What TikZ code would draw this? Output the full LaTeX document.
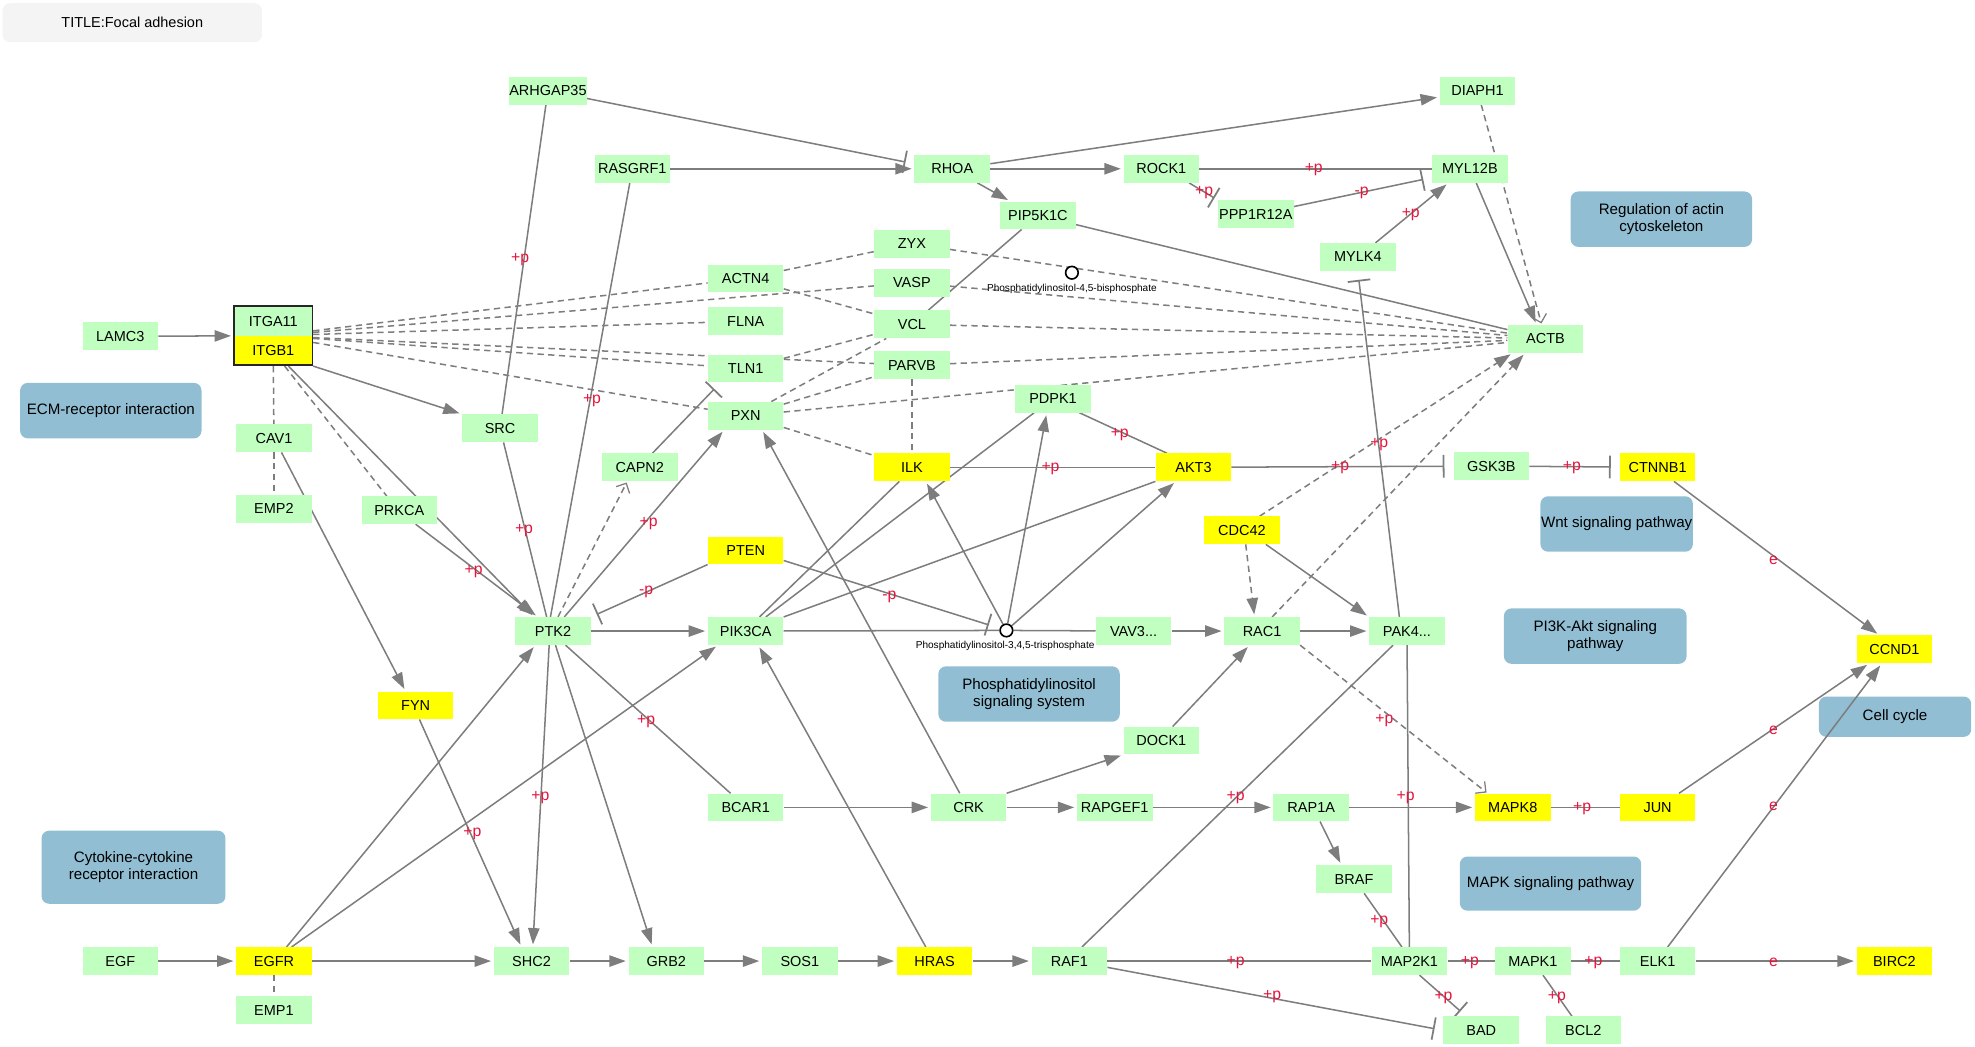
\documentclass[tikz,border=0pt]{standalone}
\usepackage{fontspec}
\setmainfont{Liberation Sans}
\usetikzlibrary{arrows.meta}
\definecolor{gfill}{RGB}{193,255,193}
\definecolor{yfill}{RGB}{255,255,0}
\definecolor{pwfill}{RGB}{145,190,211}
\definecolor{egray}{RGB}{125,125,125}
\definecolor{lred}{RGB}{230,20,60}
\definecolor{tfill}{RGB}{244,244,244}
\pgfdeclarelayer{pwl}
\pgfdeclarelayer{bg}
\pgfsetlayers{pwl,bg,main}
\begin{document}
\begin{tikzpicture}[x=1pt,y=-1pt,
 nd/.style={rectangle,minimum width=60pt,minimum height=22pt,inner sep=0pt,font=\fontsize{11.5}{13}\selectfont},
 gn/.style={nd,fill=gfill},
 yn/.style={nd,fill=yfill},
 pw/.style={rectangle,rounded corners=6pt,fill=pwfill,inner sep=0pt,align=center,font=\fontsize{12}{14}\selectfont},
 ed/.style={draw=egray,line width=1.2pt},
 act/.style={ed,-{Triangle[length=13pt,width=9pt]},shorten >=2pt},
 inh/.style={ed,-{Bar[width=18pt,line width=1.4pt]},shorten >=7pt},
 ln/.style={ed},
 dsh/.style={ed,dash pattern=on 5pt off 3.5pt},
 dact/.style={dsh,-{Triangle[length=13pt,width=9pt]},shorten >=2pt},
 dopen/.style={dsh,-{Straight Barb[length=6pt,width=12pt,line width=1pt]},shorten >=1pt},
 lab/.style={text=lred,font=\fontsize{12.5}{14}\selectfont,inner sep=0pt},
 smalltext/.style={font=\fontsize{8}{9}\selectfont,inner sep=0pt},
 pcirc/.style={circle,draw=black,line width=1.3pt,fill=white,minimum size=10pt,inner sep=0pt},
]
\useasboundingbox (0,0) rectangle (1568,831);

\node[rectangle,rounded corners=6pt,fill=tfill,minimum width=206pt,minimum height=31pt,inner sep=0pt,font=\fontsize{11.5}{13}\selectfont] (title) at (105,18) {TITLE:Focal adhesion};

% genes
\node[gn] (arhgap35) at (435,72) {ARHGAP35};
\node[gn] (rasgrf1) at (502,134) {RASGRF1};
\node[gn] (rhoa) at (756,134) {RHOA};
\node[gn] (rock1) at (922,134) {ROCK1};
\node[gn] (diaph1) at (1173,72) {DIAPH1};
\node[gn] (myl12b) at (1167,134) {MYL12B};
\node[gn] (pip5k1c) at (824,171) {PIP5K1C};
\node[gn] (ppp1r12a) at (997,170) {PPP1R12A};
\node[gn] (mylk4) at (1078,204) {MYLK4};
\node[gn] (zyx) at (724,193.5) {ZYX};
\node[gn] (actn4) at (592,221) {ACTN4};
\node[gn] (vasp) at (724,224.5) {VASP};
\node[gn] (flna) at (592,255) {FLNA};
\node[gn] (vcl) at (724,257.5) {VCL};
\node[gn] (lamc3) at (95.5,267) {LAMC3};
\node[gn,minimum width=61pt,minimum height=23.5pt] (itga11) at (217,255) {ITGA11};
\node[yn,minimum width=61pt,minimum height=23.5pt] (itgb1) at (217,278.5) {ITGB1};
\node[draw=black!85,line width=1.3pt,minimum width=62pt,minimum height=47pt,inner sep=0pt] (itg) at (217,266.5) {};
\node[gn] (tln1) at (592,292.5) {TLN1};
\node[gn] (parvb) at (724,290) {PARVB};
\node[gn] (actb) at (1227,269) {ACTB};
\node[gn] (pxn) at (592,330) {PXN};
\node[gn] (pdpk1) at (836,316.5) {PDPK1};
\node[gn] (src) at (397,340) {SRC};
\node[gn] (cav1) at (217.5,348) {CAV1};
\node[gn] (capn2) at (508,371) {CAPN2};
\node[yn] (ilk) at (724,371) {ILK};
\node[yn] (akt3) at (947.5,371) {AKT3};
\node[gn] (gsk3b) at (1184,370) {GSK3B};
\node[yn] (ctnnb1) at (1316,371) {CTNNB1};
\node[gn] (emp2) at (217.5,404) {EMP2};
\node[gn] (prkca) at (317,405) {PRKCA};
\node[yn] (cdc42) at (986,421) {CDC42};
\node[yn] (pten) at (592,437) {PTEN};
\node[gn] (ptk2) at (439,501) {PTK2};
\node[gn] (pik3ca) at (592,501) {PIK3CA};
\node[pcirc] (pip3) at (799,500.5) {};
\node[smalltext] (pip3lab) at (798,513) {Phosphatidylinositol-3,4,5-trisphosphate};
\node[pcirc] (pip2) at (851,216.5) {};
\node[smalltext] (pip2lab) at (851,229.5) {Phosphatidylinositol-4,5-bisphosphate};
\node[gn] (vav3) at (900,501) {VAV3...};
\node[gn] (rac1) at (1002,501) {RAC1};
\node[gn] (pak4) at (1117,501) {PAK4...};
\node[yn] (ccnd1) at (1504,515.5) {CCND1};
\node[yn] (fyn) at (330,560) {FYN};
\node[gn] (dock1) at (922,588) {DOCK1};
\node[gn] (bcar1) at (592,641) {BCAR1};
\node[gn] (crk) at (769,641) {CRK};
\node[gn] (rapgef1) at (885,641) {RAPGEF1};
\node[gn] (rap1a) at (1041,641) {RAP1A};
\node[yn] (mapk8) at (1201,641) {MAPK8};
\node[yn] (jun) at (1316,641) {JUN};
\node[gn] (braf) at (1075,698) {BRAF};
\node[gn] (egf) at (95.5,763) {EGF};
\node[yn] (egfr) at (217.5,763) {EGFR};
\node[gn] (shc2) at (422,763) {SHC2};
\node[gn] (grb2) at (529,763) {GRB2};
\node[gn] (sos1) at (635,763) {SOS1};
\node[yn] (hras) at (742,763) {HRAS};
\node[gn] (raf1) at (849,763) {RAF1};
\node[gn] (map2k1) at (1119,763) {MAP2K1};
\node[gn] (mapk1) at (1217,763) {MAPK1};
\node[gn] (elk1) at (1316,763) {ELK1};
\node[yn] (birc2) at (1504,763) {BIRC2};
\node[gn] (emp1) at (217.5,802) {EMP1};
\node[gn] (bad) at (1176,818) {BAD};
\node[gn] (bcl2) at (1257,818) {BCL2};

% pathway boxes
\begin{pgfonlayer}{pwl}
\node[pw,minimum width=144pt,minimum height=44pt] (pwreg) at (1319,174) {Regulation of actin\\cytoskeleton};
\node[pw,minimum width=144pt,minimum height=44pt] (pwecm) at (88,326) {ECM-receptor interaction};
\node[pw,minimum width=121pt,minimum height=44pt] (pwwnt) at (1283.5,416) {Wnt signaling pathway};
\node[pw,minimum width=145pt,minimum height=44pt] (pwpi3k) at (1266.5,505) {PI3K-Akt signaling\\pathway};
\node[pw,minimum width=144pt,minimum height=44pt] (pwpis) at (817,551) {Phosphatidylinositol\\signaling system};
\node[pw,minimum width=121pt,minimum height=32pt] (pwcc) at (1504.5,569) {Cell cycle};
\node[pw,minimum width=146pt,minimum height=58pt] (pwcyt) at (106,688.5) {Cytokine-cytokine\\receptor interaction};
\node[pw,minimum width=144pt,minimum height=43pt] (pwmapk) at (1231,701.5) {MAPK signaling pathway};
\end{pgfonlayer}

% edges
\begin{pgfonlayer}{bg}
\draw[act] (rasgrf1) -- (rhoa);
\draw[inh] (arhgap35) -- ([yshift=4pt]rhoa.west);
\draw[act] (rhoa) -- (rock1);
\draw[act] ([xshift=20pt]rhoa.south) -- ([xshift=-22pt]pip5k1c.north);
\draw[act] ([yshift=4pt]rhoa.east) -- ([yshift=-5pt]diaph1.west);
\draw[ln] (rock1) -- (myl12b);
\draw[inh,shorten >=3pt] ([xshift=22pt]rock1.south) -- (ppp1r12a.north west);
\draw[inh] ([yshift=6pt]ppp1r12a.east) -- ([yshift=-7pt]myl12b.west);
\draw[act] ([xshift=14pt]mylk4.north) -- ([xshift=-17pt]myl12b.south);
\draw[act] ([xshift=5pt]myl12b.south) -- ([xshift=-7pt]actb.north);
\draw[dopen] ([xshift=3pt]diaph1.south) -- ([xshift=-3pt]actb.north);
\draw[ln] (pip5k1c) -- (actb);
\draw[ln] (pip5k1c) -- (vcl);
\draw[ln] (src) -- (arhgap35);
% dashed network
\draw[dsh] (itg) -- (actn4);
\draw[dsh] (itg) -- (vasp);
\draw[dsh] (itg) -- (flna);
\draw[dsh] (itg) -- (tln1);
\draw[dsh] (itg) -- (parvb);
\draw[dsh] (itg) -- (pxn);
\draw[dsh] (actn4) -- (zyx);
\draw[dsh] (actn4) -- (vcl);
\draw[dsh] (zyx) -- (actb);
\draw[dsh] (vasp) -- (actb);
\draw[dsh] (vcl) -- (actb);
\draw[dsh] (parvb) -- (actb);
\draw[dsh] (pxn) -- (actb);
\draw[dsh] (tln1) -- (vcl);
\draw[dsh] (pxn) -- (vcl);
\draw[dsh] (pxn) -- (parvb);
\draw[dsh] (pxn) -- (ilk);
\draw[dsh] (parvb) -- (ilk);
\draw[dsh] (itg.south) -- (cav1);
\draw[dsh] (cav1) -- (emp2);
\draw[dsh] (egfr) -- (emp1);
\draw[dsh] ([xshift=9pt]itg.south) -- ([xshift=-10pt]prkca.north);
% left / middle
\draw[act] (lamc3) -- (itg);
\draw[act] (itg.south east) -- (src.north west);
\draw[act] ([xshift=12pt]itg.south) -- ([xshift=-15pt]ptk2.north);
\draw[act] ([xshift=13pt]prkca.south) -- ([xshift=-12pt]ptk2.north);
\draw[act] ([xshift=6pt]cav1.south) -- ([xshift=-8pt]fyn.north);
\draw[ln] (src) -- ([xshift=-5pt]ptk2.north);
\draw[ln] ([xshift=-2pt]rasgrf1.south) -- ([xshift=-2pt]ptk2.north);
\draw[dopen] ([xshift=4pt]ptk2.north) -- ([xshift=-10pt]capn2.south);
\draw[act] ([xshift=9pt]ptk2.north) -- ([xshift=-17pt]pxn.south);
\draw[inh] ([xshift=10pt]capn2.north) -- ([xshift=-20pt]tln1.south);
\draw[inh,shorten >=5pt] (pten.south west) -- (ptk2.north east);
\draw[inh,shorten >=9pt] ([yshift=-8pt]pten.east) -- (pip3);
\draw[act] (ptk2) -- (pik3ca);
\draw[ln] (pik3ca) -- (pip3);
\draw[ln] (pip3) -- (vav3);
\draw[act] (vav3) -- (rac1);
\draw[act] (rac1) -- (pak4);
\draw[act] (pip3) -- ([xshift=11pt]ilk.south);
\draw[act] (pip3) -- ([xshift=-5pt]pdpk1.south);
\draw[act] (pip3) -- ([xshift=-14pt]akt3.south);
\draw[ln] ([xshift=16pt]pik3ca.north) -- ([xshift=-15pt]pdpk1.south);
\draw[ln] ([xshift=11pt]pik3ca.north) -- ([xshift=-10pt]ilk.south);
\draw[ln] (pik3ca.north east) -- (akt3.south west);
\draw[ln] (ilk) -- (akt3);
\draw[ln] ([xshift=21pt]pdpk1.south) -- ([xshift=-21pt]akt3.north);
\draw[inh] (akt3) -- (gsk3b);
\draw[inh] (gsk3b) -- (ctnnb1);
\draw[act] ([xshift=13pt]ctnnb1.south) -- ([xshift=-12pt]ccnd1.north);
\draw[act] ([xshift=-7pt]crk.north) -- ([xshift=13pt]pxn.south);
\draw[act] ([xshift=-7pt]hras.north) -- ([xshift=10pt]pik3ca.south);
\draw[act] ([xshift=14pt]egfr.north) -- ([xshift=-22pt]pik3ca.south);
\draw[act] ([xshift=10pt]egfr.north) -- ([xshift=-14pt]ptk2.south);
\draw[act] ([xshift=-3pt]ptk2.south) -- ([xshift=1pt]shc2.north);
\draw[act] ([xshift=3pt]fyn.south) -- ([xshift=-8pt]shc2.north);
\draw[act] ([xshift=2pt]ptk2.south) -- ([xshift=-11pt]grb2.north);
\draw[ln] ([xshift=10pt]ptk2.south) -- ([xshift=-12pt]bcar1.north);
\draw[act] (bcar1) -- (crk);
\draw[act] (crk) -- (rapgef1);
\draw[act] (rapgef1) -- (rap1a);
\draw[act] (rap1a) -- (mapk8);
\draw[act] (crk.north east) -- (dock1.south west);
\draw[act] ([xshift=9pt]dock1.north) -- ([xshift=-10pt]rac1.south);
\draw[act] ([xshift=19pt]cdc42.south) -- (pak4.north west);
\draw[dact] ([xshift=3pt]cdc42.south) -- ([xshift=-6pt]rac1.north);
\draw[dact] ([xshift=14pt]cdc42.north) -- ([xshift=-26pt]actb.south);
\draw[dact] ([xshift=8pt]rac1.north) -- ([xshift=-16pt]actb.south);
\draw[dopen] (rac1.south east) -- ([xshift=-20pt]mapk8.north);
\draw[ln] ([xshift=10pt]raf1.north) -- ([xshift=-11pt]pak4.south);
\draw[ln] (pak4) -- (map2k1);
\draw[inh] ([xshift=-6pt]pak4.north) -- (mylk4.south);
\draw[act] ([xshift=7pt]rap1a.south) -- ([xshift=-10pt]braf.north);
\draw[ln] ([xshift=8pt]braf.south) -- ([xshift=-6pt]map2k1.north);
\draw[ln] (raf1) -- (map2k1);
\draw[ln] (map2k1) -- (mapk1);
\draw[ln] (mapk1) -- (elk1);
\draw[inh] ([yshift=-5pt]raf1.east) -- (bad.west);
\draw[inh,shorten >=6pt] ([xshift=8pt]map2k1.south) -- ([xshift=-12pt]bad.north);
\draw[ln] ([xshift=8pt]mapk1.south) -- ([xshift=-9pt]bcl2.north);
\draw[ln] (mapk8) -- (jun);
\draw[act] ([xshift=17pt]jun.north) -- ([xshift=-20pt]ccnd1.south);
\draw[act] ([xshift=8pt]elk1.north) -- ([xshift=-10pt]ccnd1.south);
\draw[act] (elk1) -- (birc2);
\draw[act] (egf) -- (egfr);
\draw[act] (egfr) -- (shc2);
\draw[act] (shc2) -- (grb2);
\draw[act] (grb2) -- (sos1);
\draw[act] (sos1) -- (hras);
\draw[act] (hras) -- (raf1);
\end{pgfonlayer}

% edge labels
\node[lab] (l01) at (413,206) {+p};
\node[lab] (l02) at (956,153) {+p};
\node[lab] (l03) at (1043,135) {+p};
\node[lab] (l04) at (1081,153) {-p};
\node[lab] (l05) at (1120,170) {+p};
\node[lab] (l06) at (470,318) {+p};
\node[lab] (l07) at (416,421) {+p};
\node[lab] (l08) at (376,454) {+p};
\node[lab] (l09) at (515,416) {+p};
\node[lab] (l10) at (513,470) {-p};
\node[lab] (l11) at (889,345) {+p};
\node[lab] (l12) at (834,372) {+p};
\node[lab] (l13) at (706,474) {-p};
\node[lab] (l14) at (1095,353) {+p};
\node[lab] (l15) at (1064,371) {+p};
\node[lab] (l16) at (1248,371) {+p};
\node[lab] (l17) at (1408,445) {e};
\node[lab] (l18) at (513,573) {+p};
\node[lab] (l19) at (429,633) {+p};
\node[lab] (l20) at (375,662) {+p};
\node[lab] (l21) at (981,633) {+p};
\node[lab] (l22) at (981,764) {+p};
\node[lab] (l23) at (1010,791) {+p};
\node[lab] (l24) at (1099,572) {+p};
\node[lab] (l25) at (1116,633) {+p};
\node[lab] (l26) at (1256,642) {+p};
\node[lab] (l27) at (1408,580) {e};
\node[lab] (l28) at (1408,640) {e};
\node[lab] (l29) at (1095,732) {+p};
\node[lab] (l30) at (1167,764) {+p};
\node[lab] (l31) at (1265,764) {+p};
\node[lab] (l32) at (1408,764) {e};
\node[lab] (l33) at (1146,792) {+p};
\node[lab] (l34) at (1236,792) {+p};
\end{tikzpicture}
\end{document}
